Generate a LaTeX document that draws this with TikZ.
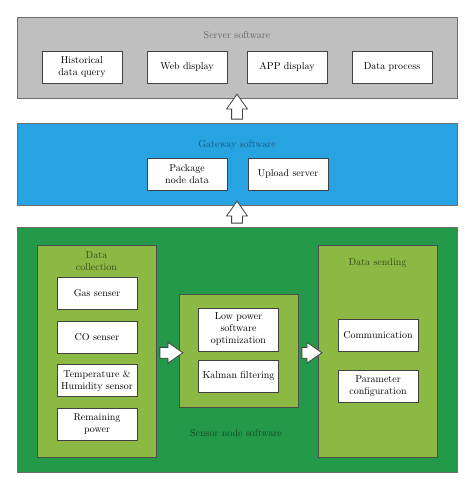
\documentclass[tikz,border=0pt]{standalone}
\usetikzlibrary{shapes.arrows,calc}
\definecolor{servergray}{HTML}{BFBFBF}
\definecolor{gatewayblue}{HTML}{27A3E2}
\definecolor{sensorgreen}{HTML}{24994A}
\definecolor{panelgreen}{HTML}{8CB844}
\definecolor{edgegray}{HTML}{6E6E6E}
\tikzset{
    layer/.style={draw=edgegray, line width=.8pt, minimum width=440pt},
    panel/.style={draw=edgegray!70!black, line width=.8pt, fill=panelgreen, minimum width=119pt},
    unit/.style={draw=edgegray!60!black, line width=.8pt, fill=white, minimum width=80pt, minimum height=32pt,
        align=center, font=\fontsize{10}{12}\selectfont, inner sep=1pt},
    title/.style={align=center, font=\fontsize{10}{12}\selectfont},
    bigarrow/.style={single arrow, draw=edgegray!60!black, line width=.8pt, fill=white, inner sep=5pt,
        single arrow head extend=5pt, single arrow tip angle=70, single arrow head indent=0pt}
}
\begin{document}
\begin{tikzpicture}[x=1pt, y=-1pt]
\useasboundingbox (0,0) rectangle (474,490);
\fill[white] (0,0) rectangle (474,490);

% server layer
\node[layer, fill=servergray, minimum height=81pt] (server) at (237,57.5) {};
\node[title, text=black!60] (servertitle) at (237,35) {Server software};
\node[unit] (history) at (82,67) {Historical\\data query};
\node[unit] (web) at (187,67) {Web display};
\node[unit] (app) at (287,67) {APP display};
\node[unit] (process) at (392,67) {Data process};

% gateway layer
\node[layer, fill=gatewayblue, minimum height=82pt] (gateway) at (237,164) {};
\node[title, text=gatewayblue!55!black] (gatewaytitle) at (237,145) {Gateway software};
\node[unit] (package) at (187,174) {Package\\node data};
\node[unit] (upload) at (288,174) {Upload server};

% sensor node layer
\node[layer, fill=sensorgreen, minimum height=245pt] (sensor) at (237,349.5) {};
\node[title, text=sensorgreen!45!black] (sensortitle) at (236,433) {Sensor node software};

\node[panel, minimum height=212pt] (collect) at (96.5,351) {};
\node[title, text=panelgreen!40!black] (collecttitle) at (96.5,261) {Data\\collection};
\node[unit] (gas) at (97,293) {Gas senser};
\node[unit] (co) at (97,337) {CO senser};
\node[unit] (temp) at (97,380.5) {Temperature \&\\Humidity sensor};
\node[unit] (power) at (97,424.5) {Remaining\\power};

\node[panel, minimum height=113pt] (optim) at (238.5,350.5) {};
\node[unit, minimum height=43pt] (lowpower) at (238.5,329.5) {Low power\\software\\optimization};
\node[unit] (kalman) at (238.5,376) {Kalman filtering};

\node[panel, minimum height=212pt] (send) at (377.5,351) {};
\node[title, text=panelgreen!40!black] (sendtitle) at (377.5,263) {Data sending};
\node[unit] (comm) at (378,335) {Communication};
\node[unit] (param) at (378,386) {Parameter\\configuration};

% hollow arrows
\node[bigarrow, shape border rotate=90, minimum height=25pt] (up1) at ($(server.south)!.5!(gateway.north)$) {};
\node[bigarrow, shape border rotate=90, minimum height=22pt] (up2) at ($(gateway.south)!.5!(sensor.north)$) {};
\node[bigarrow, minimum height=23pt] (right1) at ($(collect.east)!.5!(optim.west)+(0,2)$) {};
\node[bigarrow, minimum height=20pt] (right2) at ($(optim.east)!.5!(send.west)+(0,2)$) {};
\end{tikzpicture}
\end{document}
